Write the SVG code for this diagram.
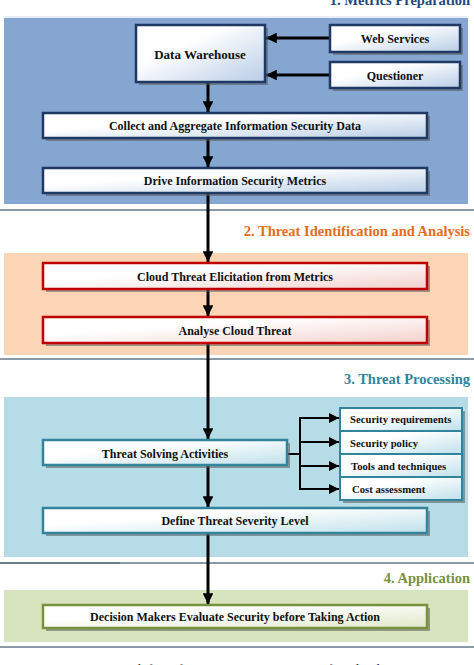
<svg xmlns="http://www.w3.org/2000/svg" width="474" height="665" viewBox="0 0 474 665">
<defs>
<linearGradient id="gB" x1="0" y1="0" x2="1" y2="1"><stop offset="0.35" stop-color="#ffffff"/><stop offset="1" stop-color="#b8cde6"/></linearGradient>
<linearGradient id="gR" x1="0" y1="0" x2="1" y2="1"><stop offset="0.35" stop-color="#ffffff"/><stop offset="1" stop-color="#f3d0cc"/></linearGradient>
<linearGradient id="gT" x1="0" y1="0" x2="1" y2="1"><stop offset="0.35" stop-color="#ffffff"/><stop offset="1" stop-color="#bfe0ea"/></linearGradient>
<linearGradient id="gG" x1="0" y1="0" x2="1" y2="1"><stop offset="0.35" stop-color="#ffffff"/><stop offset="1" stop-color="#dfe8c8"/></linearGradient>
<marker id="ah" viewBox="0 0 10 10" refX="10" refY="5" markerWidth="3.6" markerHeight="3.6" orient="auto" markerUnits="strokeWidth"><path d="M0,0 L10,5 L0,10 z" fill="#000"/></marker>
<marker id="ahs" viewBox="0 0 10 10" refX="10" refY="5" markerWidth="5" markerHeight="5" orient="auto" markerUnits="strokeWidth"><path d="M0,0 L10,5 L0,10 z" fill="#000"/></marker>
</defs>
<style>
text{font-family:"Liberation Serif","Times New Roman",serif;font-weight:bold;}
.t{font-size:12px;fill:#111;text-anchor:middle;}
.s{font-size:10.7px;fill:#111;}
.h{font-size:14.5px;text-anchor:end;}
.sh{fill:#5a5a5a;opacity:0.55;}
.bB{fill:url(#gB);stroke:#1f3864;stroke-width:2.5;}
.bR{fill:url(#gR);stroke:#c00000;stroke-width:2.5;}
.bT{fill:url(#gT);stroke:#31849b;stroke-width:2.5;}
.bTs{fill:url(#gT);stroke:#31849b;stroke-width:2;}
.bG{fill:url(#gG);stroke:#76923c;stroke-width:2.5;}
.sep{stroke:#8a98a8;stroke-width:2;}
.c{stroke:#000;stroke-width:3;fill:none;}
.cs{stroke:#000;stroke-width:2;fill:none;}
</style>
<rect width="474" height="665" fill="#ffffff"/>
<g id="backgrounds">
<rect x="4" y="16" width="464" height="2" fill="#e8eef5"/>
<rect x="4" y="18" width="464" height="186" fill="#84a6d0"/>
<line class="sep" x1="0" y1="210" x2="474" y2="210"/>
<rect x="4" y="253" width="464" height="102" fill="#fbd5b5"/>
<line class="sep" x1="0" y1="359" x2="474" y2="359"/>
<rect x="4" y="397" width="464" height="160" fill="#b6dce7"/>
<line class="sep" x1="0" y1="563" x2="474" y2="563"/>
<line x1="0" y1="563" x2="120" y2="563" stroke="#6d7d8f" stroke-width="2"/>
<rect x="4" y="590" width="464" height="52" fill="#d8e4bd"/>
<line class="sep" x1="0" y1="647" x2="474" y2="647"/>
</g>
<g id="labels">
<text class="h" x="470" y="5" fill="#1f497d">1. Metrics Preparation</text>
<text class="h" x="470" y="236" fill="#e46c1e">2. Threat Identification and Analysis</text>
<text class="h" x="470" y="384" fill="#31849b">3. Threat Processing</text>
<text class="h" x="470" y="583" fill="#76923c">4. Application</text>
<text x="237" y="673" style="font-size:13.5px;font-weight:normal;text-anchor:middle;fill:#222">Figure 1. Framework for Information Security Metrics for Cloud Computing</text>
</g>
<g id="connectors">
<line class="c" x1="330" y1="38" x2="266" y2="38" marker-end="url(#ah)"/>
<line class="c" x1="330" y1="75" x2="266" y2="75" marker-end="url(#ah)"/>
<line class="c" x1="208" y1="83" x2="208" y2="112" marker-end="url(#ah)"/>
<line class="c" x1="208" y1="139" x2="208" y2="167" marker-end="url(#ah)"/>
<line class="c" x1="208" y1="194" x2="208" y2="262" marker-end="url(#ah)"/>
<line class="c" x1="208" y1="290" x2="208" y2="316" marker-end="url(#ah)"/>
<line class="c" x1="208" y1="344" x2="208" y2="439" marker-end="url(#ah)"/>
<line class="c" x1="208" y1="466" x2="208" y2="507" marker-end="url(#ah)"/>
<line class="c" x1="208" y1="534" x2="208" y2="604" marker-end="url(#ah)"/>
<polyline class="cs" points="288,454 300,454"/>
<line class="cs" x1="300" y1="418" x2="300" y2="490"/>
<line class="cs" x1="299" y1="418" x2="339" y2="418" marker-end="url(#ahs)"/>
<line class="cs" x1="299" y1="442" x2="339" y2="442" marker-end="url(#ahs)"/>
<line class="cs" x1="299" y1="466" x2="339" y2="466" marker-end="url(#ahs)"/>
<line class="cs" x1="299" y1="489" x2="339" y2="489" marker-end="url(#ahs)"/>
</g>
<g id="data-warehouse"><rect class="sh" x="139" y="28" width="129" height="57"/><rect class="bB" x="136" y="25" width="129" height="57"/><text class="t" x="200" y="59" style="font-size:13px">Data Warehouse</text></g>
<g id="web-services"><rect class="sh" x="333" y="28" width="130" height="27"/><rect class="bB" x="330" y="25" width="130" height="27"/><text class="t" x="395" y="43">Web Services</text></g>
<g id="questioner"><rect class="sh" x="333" y="65" width="130" height="26"/><rect class="bB" x="330" y="62" width="130" height="26"/><text class="t" x="395" y="80">Questioner</text></g>
<g id="collect"><rect class="sh" x="46" y="116" width="384" height="25"/><rect class="bB" x="43" y="113" width="384" height="25"/><text class="t" x="235" y="130">Collect and Aggregate Information Security Data</text></g>
<g id="drive"><rect class="sh" x="46" y="171" width="384" height="25"/><rect class="bB" x="43" y="168" width="384" height="25"/><text class="t" x="235" y="185">Drive Information Security Metrics</text></g>
<g id="elicitation"><rect class="sh" x="46" y="266" width="384" height="26"/><rect class="bR" x="43" y="263" width="384" height="26"/><text class="t" x="235" y="281">Cloud Threat Elicitation from Metrics</text></g>
<g id="analyse"><rect class="sh" x="46" y="320" width="384" height="26"/><rect class="bR" x="43" y="317" width="384" height="26"/><text class="t" x="235" y="335">Analyse Cloud Threat</text></g>
<g id="threat-solving"><rect class="sh" x="46" y="443" width="244" height="25"/><rect class="bT" x="43" y="440" width="244" height="25"/><text class="t" x="165" y="458">Threat Solving Activities</text></g>
<g id="security-requirements"><rect class="sh" x="343" y="411" width="122" height="23"/><rect class="bTs" x="340" y="408" width="122" height="23"/><text class="s" x="350" y="423">Security requirements</text></g>
<g id="security-policy"><rect class="sh" x="343" y="434" width="122" height="23"/><rect class="bTs" x="340" y="431" width="122" height="23"/><text class="s" x="350" y="447">Security policy</text></g>
<g id="tools"><rect class="sh" x="343" y="457" width="122" height="23"/><rect class="bTs" x="340" y="454" width="122" height="23"/><text class="s" x="351" y="470">Tools and techniques</text></g>
<g id="cost"><rect class="sh" x="343" y="480" width="122" height="23"/><rect class="bTs" x="340" y="477" width="122" height="23"/><text class="s" x="352" y="493">Cost assessment</text></g>
<g id="severity"><rect class="sh" x="46" y="511" width="384" height="25"/><rect class="bT" x="43" y="508" width="384" height="25"/><text class="t" x="235" y="525">Define Threat Severity Level</text></g>
<g id="decision"><rect class="sh" x="46" y="608" width="384" height="23"/><rect class="bG" x="43" y="605" width="384" height="23"/><text class="t" x="235" y="621">Decision Makers Evaluate Security before Taking Action</text></g>
</svg>
